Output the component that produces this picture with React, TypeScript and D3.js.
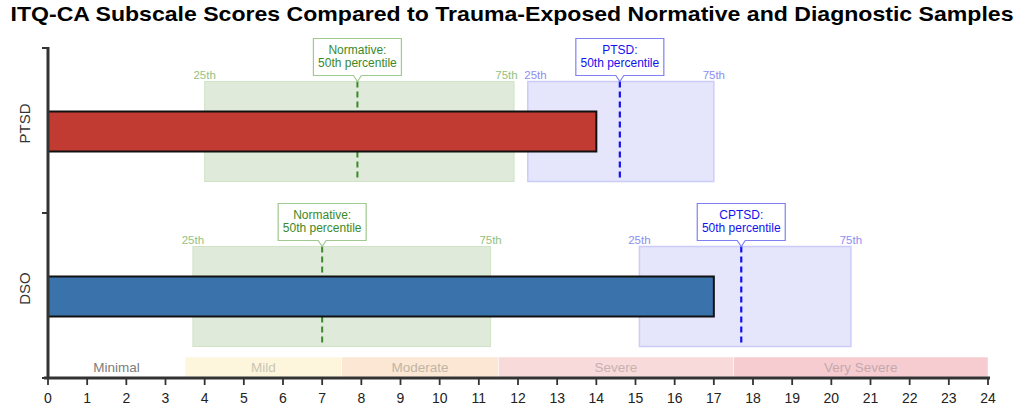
import * as d3 from 'd3'

const W = 1024
const H = 409

const TITLE = 'ITQ-CA Subscale Scores Compared to Trauma-Exposed Normative and Diagnostic Samples'

const subscales = ['PTSD', 'DSO']
const scores = [14, 17]
const barColors = ['#c23b33', '#3a73ac']

// normative (trauma-exposed) sample percentiles
const normP25 = [4.0, 3.7]
const normP50 = [7.9, 7.0]
const normP75 = [11.9, 11.3]

// diagnostic sample percentiles
const diagNames = ['PTSD', 'CPTSD']
const diagP25 = [12.25, 15.1]
const diagP50 = [14.6, 17.7]
const diagP75 = [17.0, 20.5]

const severityNames = ['Minimal', 'Mild', 'Moderate', 'Severe', 'Very Severe']
const severityStart = [0, 3.5, 7.5, 11.5, 17.5]
const severityEnd = [3.5, 7.5, 11.5, 17.5, 24]
const severityFill = ['none', '#fdf5dc', '#fbe7d4', '#f8dada', '#f7ccd1']
const severityText = ['#7d7d7d', '#c9c6b4', '#c2b5a6', '#c9b1b1', '#c3a9ad']

const xTicks = d3.range(0, 25)

const FONT = '"Liberation Sans", Arial, Helvetica, sans-serif'

const green = {
  fill: '#dfeada',
  stroke: '#d0e3c6',
  line: '#3a8a2a',
  label: '#92c282',
  boxStroke: '#9fc98f',
  text: '#3a8a2a',
}
const blue = {
  fill: '#e5e5fb',
  stroke: '#ccccf8',
  line: '#1212ee',
  label: '#8d8df2',
  boxStroke: '#8080f2',
  text: '#1212ee',
}

function Callout({ x, yTip, lines, c }: { x: number; yTip: number; lines: string[]; c: typeof green }) {
  const bw = 88
  const bh = 37
  const ptr = 6
  const top = yTip - ptr - bh
  const l = x - bw / 2
  const r = x + bw / 2
  const b = yTip - ptr
  const path = `M${l},${top}H${r}V${b}H${x + 4}L${x},${yTip}L${x - 4},${b}H${l}Z`
  return (
    <g>
      <path d={path} fill="white" stroke={c.boxStroke} strokeWidth={1.2} />
      {lines.map((t, i) => (
        <text key={i} x={x} y={top + 15 + i * 13} textAnchor="middle" fontSize={12} fill={c.text} fontFamily={FONT}>
          {t}
        </text>
      ))}
    </g>
  )
}

export default function App() {
  const margin = { left: 48, right: 36, top: 48, bottom: 31 }
  const x = d3.scaleLinear().domain([0, 24]).range([margin.left, W - margin.right])
  const y = d3.scaleBand<string>().domain(subscales).range([margin.top, H - margin.bottom]).paddingInner(0).paddingOuter(0)
  const axisY = H - margin.bottom
  const barH = 40
  const boxH = 100

  return (
    <svg width={W} height={H} viewBox={`0 0 ${W} ${H}`} style={{ position: 'absolute', left: 0, top: 0, background: 'white' }}>
      <text
        x={W / 2}
        y={21}
        textAnchor="middle"
        fontSize={21}
        fontWeight="bold"
        fontFamily={FONT}
        fill="#000"
        textLength={1003}
        lengthAdjust="spacingAndGlyphs"
      >
        {TITLE}
      </text>

      {/* severity bands */}
      {severityNames.map((name, i) => (
        <g key={name}>
          <rect
            x={x(severityStart[i])}
            y={axisY - 21}
            width={x(severityEnd[i]) - x(severityStart[i])}
            height={20}
            fill={severityFill[i]}
            stroke={i === 0 ? 'none' : 'white'}
            strokeWidth={0.5}
          />
          <text
            x={(x(severityStart[i]) + x(severityEnd[i])) / 2}
            y={axisY - 6}
            textAnchor="middle"
            fontSize={13.5}
            fill={severityText[i]}
            fontFamily={FONT}
          >
            {name}
          </text>
        </g>
      ))}

      {subscales.map((s, i) => {
        const cy = (y(s) ?? 0) + y.bandwidth() / 2 + 1
        const top = cy - boxH / 2
        // percentile labels: centred on box edges, pushed apart when they collide
        let g75 = x(normP75[i])
        let b25 = x(diagP25[i])
        if (b25 - g75 < 30) {
          const mid = (g75 + b25) / 2
          g75 = mid - 14.5
          b25 = mid + 14.5
        }
        return (
          <g key={s}>
            <rect
              x={x(normP25[i])}
              y={top}
              width={x(normP75[i]) - x(normP25[i])}
              height={boxH}
              fill={green.fill}
              stroke={green.stroke}
              strokeWidth={1}
            />
            <rect
              x={x(diagP25[i])}
              y={top}
              width={x(diagP75[i]) - x(diagP25[i])}
              height={boxH}
              fill={blue.fill}
              stroke={blue.stroke}
              strokeWidth={1.5}
            />
            <text x={x(normP25[i])} y={top - 3} textAnchor="middle" fontSize={11.5} fill={green.label} fontFamily={FONT}>
              25th
            </text>
            <text x={g75} y={top - 3} textAnchor="middle" fontSize={11.5} fill={green.label} fontFamily={FONT}>
              75th
            </text>
            <text x={b25} y={top - 3} textAnchor="middle" fontSize={11.5} fill={blue.label} fontFamily={FONT}>
              25th
            </text>
            <text x={x(diagP75[i])} y={top - 3} textAnchor="middle" fontSize={11.5} fill={blue.label} fontFamily={FONT}>
              75th
            </text>

            <line x1={x(normP50[i])} x2={x(normP50[i])} y1={top} y2={top + boxH} stroke={green.line} strokeWidth={2} strokeDasharray="6,4" />
            <line x1={x(diagP50[i])} x2={x(diagP50[i])} y1={top} y2={top + boxH} stroke={blue.line} strokeWidth={2.2} strokeDasharray="6,4" />

            <rect
              x={x(0)}
              y={cy - barH / 2}
              width={x(scores[i]) - x(0)}
              height={barH}
              fill={barColors[i]}
              stroke="#111"
              strokeWidth={2}
            />

            <Callout x={x(normP50[i])} yTip={top} lines={['Normative:', '50th percentile']} c={green} />
            <Callout x={x(diagP50[i])} yTip={top} lines={[`${diagNames[i]}:`, '50th percentile']} c={blue} />

            <text
              transform={`translate(${26},${cy - 8}) rotate(-90)`}
              textAnchor="middle"
              dominantBaseline="middle"
              fontSize={15}
              fill="#333"
              fontFamily={FONT}
            >
              {s}
            </text>
          </g>
        )
      })}

      {/* y axis */}
      <g stroke="#333">
        <line x1={x(0)} x2={x(0)} y1={margin.top - 1} y2={axisY} strokeWidth={3} />
        {[...subscales.map((s) => y(s) ?? 0), axisY].map((v, i) => (
          <line key={i} x1={x(0) - 6} x2={x(0)} y1={v} y2={v} strokeWidth={2} />
        ))}
      </g>

      {/* x axis */}
      <g>
        <line x1={x(0) - 4} x2={x(24) + 2} y1={axisY} y2={axisY} stroke="#333" strokeWidth={3} />
        {xTicks.map((t) => (
          <g key={t} transform={`translate(${x(t)},${axisY})`}>
            <line y1={0} y2={7} stroke="#333" strokeWidth={1.8} />
            <text y={25} textAnchor="middle" fontSize={14} fill="#222" fontFamily={FONT}>
              {t}
            </text>
          </g>
        ))}
      </g>
    </svg>
  )
}
